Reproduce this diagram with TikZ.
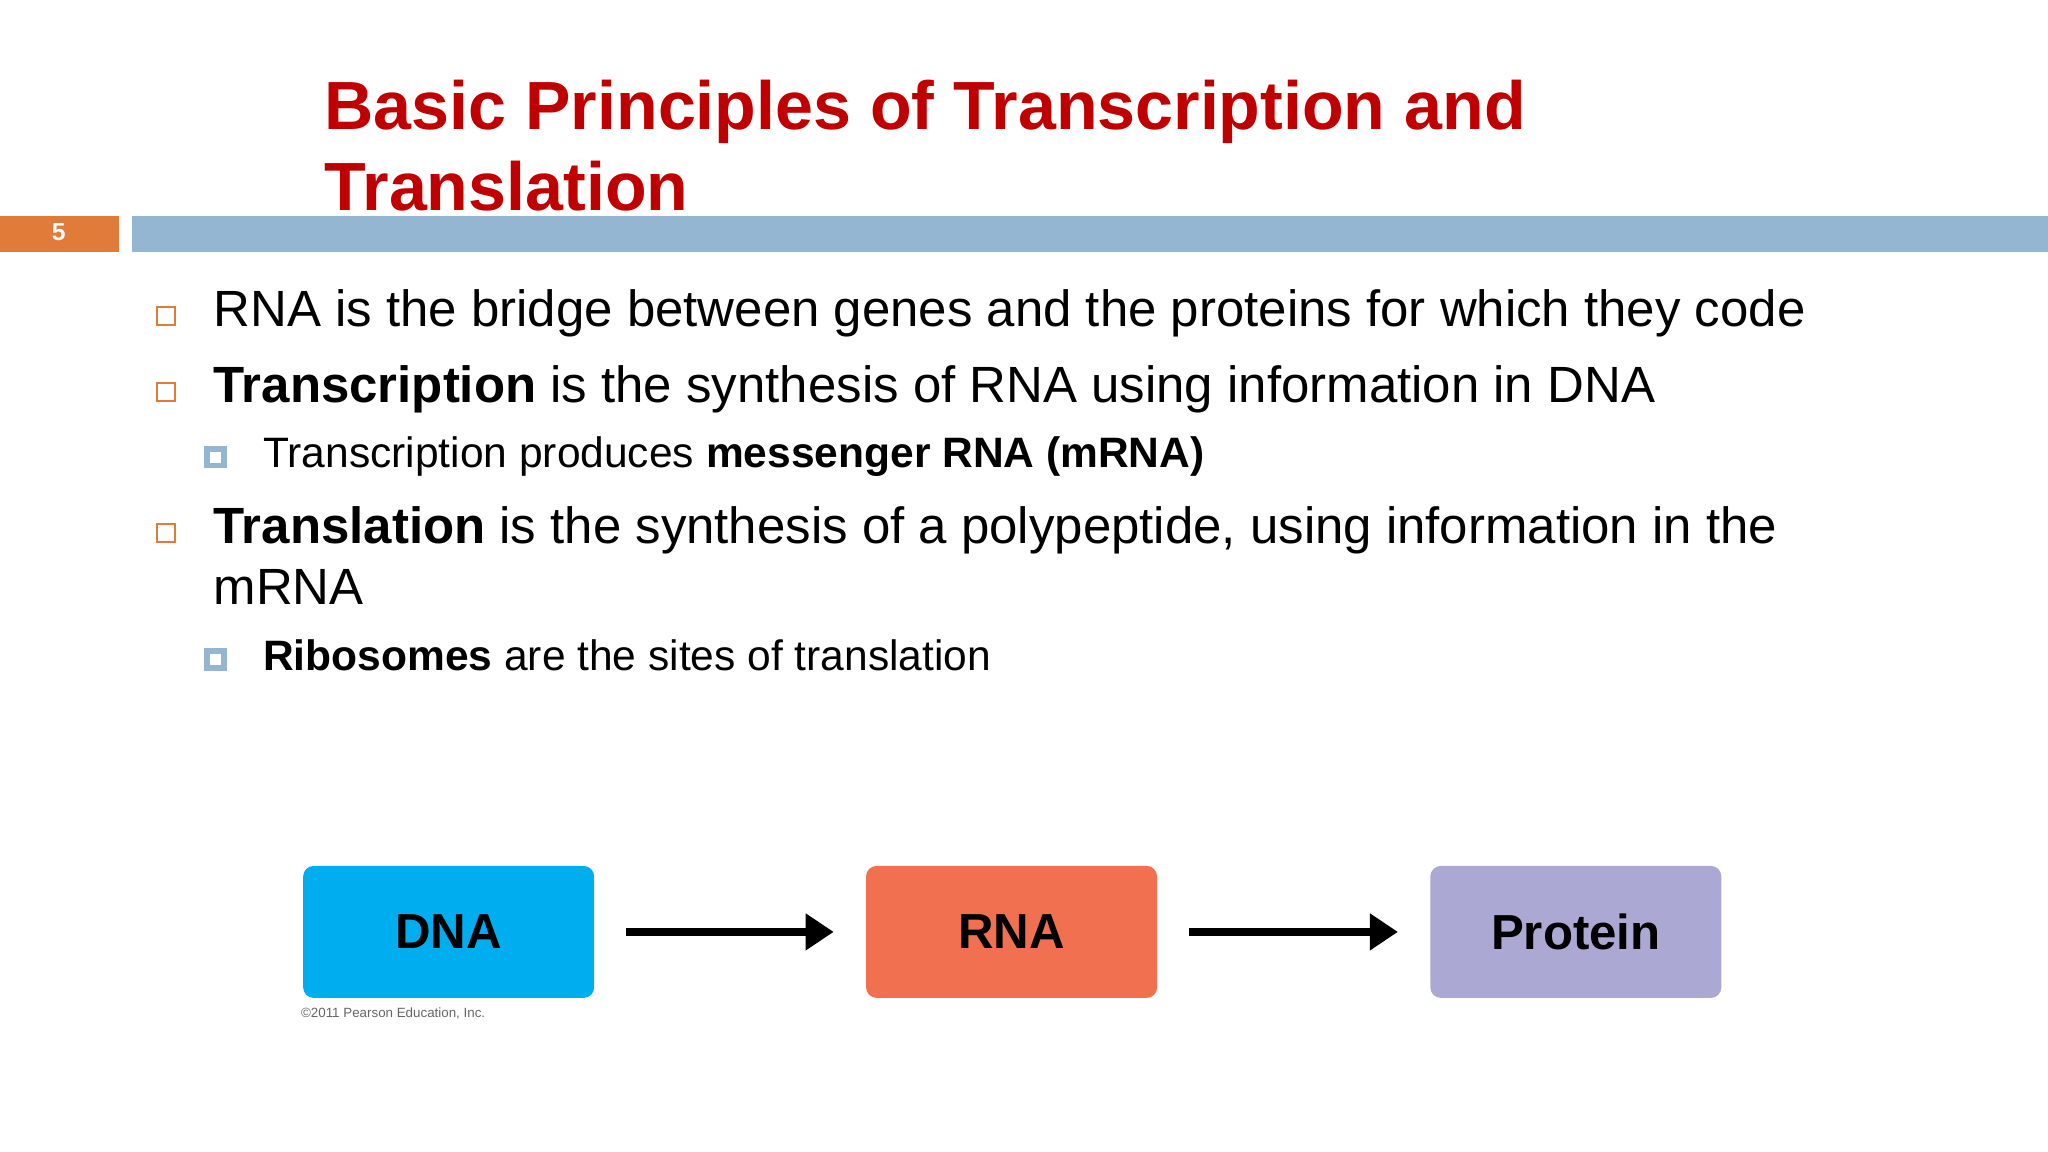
\documentclass[tikz,border=0pt]{standalone}
\usepackage{fontspec}
\setmainfont{Liberation Sans}
\usetikzlibrary{arrows.meta}
\definecolor{ttl}{HTML}{C00000}
\definecolor{org}{HTML}{E07B39}
\definecolor{blu}{HTML}{94B6D2}
\definecolor{dnac}{HTML}{00AEEF}
\definecolor{rnac}{HTML}{F07050}
\definecolor{proc}{HTML}{ABA8D4}
\tikzset{
  body/.style={anchor=base west,inner sep=0pt,font=\fontsize{14.5}{17}\selectfont},
  sub/.style={anchor=base west,inner sep=0pt,font=\fontsize{12.1}{14}\selectfont},
  bul/.style={draw=org,line width=0.5pt,minimum size=5.2pt,inner sep=0pt},
  sbul/.style={draw=blu,line width=1.6pt,minimum size=4.8pt,inner sep=0pt},
  box/.style={rounded corners=3pt,minimum width=2.91cm,minimum height=1.32cm,inner sep=0pt,font=\bfseries\fontsize{14}{16}\selectfont},
  arr/.style={line width=2.4pt,-{Triangle[length=8pt,width=10pt]}}
}
\begin{document}
\begin{tikzpicture}[x=0.013061cm,y=-0.013061cm]
\useasboundingbox (0,0) rectangle (1568,882);
\fill[white] (0,0) rectangle (1568,882);
\node[anchor=base west,inner sep=0pt,text=ttl,font=\bfseries\fontsize{19.4}{23}\selectfont] (t1) at (248,99) {Basic Principles of Transcription and};
\node[anchor=base west,inner sep=0pt,text=ttl,font=\bfseries\fontsize{19.4}{23}\selectfont] (t2) at (248,161) {Translation};
\fill[org] (0,165) rectangle (91,193);
\fill[blu] (101,165) rectangle (1568,193);
\node[text=white,font=\bfseries\fontsize{7}{8}\selectfont] (num) at (45,178) {5};
\node[bul] (b1) at (127,242) {};
\node[body] (l1) at (163,250) {RNA is the bridge between genes and the proteins for which they code};
\node[bul] (b2) at (127,300) {};
\node[body] (l2) at (163,308) {\textbf{Transcription} is the synthesis of RNA using information in DNA};
\node[sbul] (s1) at (165,350) {};
\node[sub] (l3) at (201,358) {Transcription produces \textbf{messenger RNA (mRNA)}};
\node[bul] (b3) at (127,408) {};
\node[body] (l4) at (163,416) {\textbf{Translation} is the synthesis of a polypeptide, using information in the};
\node[body] (l5) at (163,463) {mRNA};
\node[sbul] (s2) at (165,505) {};
\node[sub] (l6) at (201,513) {\textbf{Ribosomes} are the sites of translation};
\node[box,fill=dnac] (dna) at (343.5,713.5) {DNA};
\node[box,fill=rnac] (rna) at (774.5,713.5) {RNA};
\node[box,fill=proc] (pro) at (1206.5,713.5) {Protein};
\draw[arr] ([xshift=9pt]dna.east) -- ([xshift=-9pt]rna.west);
\draw[arr] ([xshift=9pt]rna.east) -- ([xshift=-9pt]pro.west);
\node[anchor=west,inner sep=0pt,text=gray!80!black,font=\fontsize{3.8}{4.5}\selectfont] (cp) at (230,776) {\textcopyright2011 Pearson Education, Inc.};
\end{tikzpicture}
\end{document}
